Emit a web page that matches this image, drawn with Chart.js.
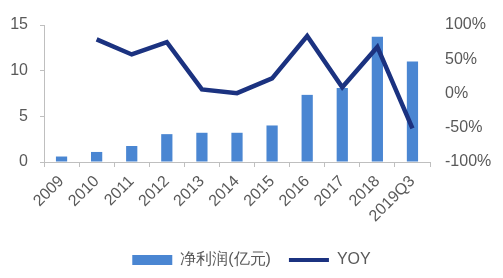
<!DOCTYPE html>
<html><head><meta charset="utf-8">
<script src="https://cdn.jsdelivr.net/npm/chart.js@4/dist/chart.umd.min.js"></script>
<style>html,body{margin:0;padding:0;background:#fff}#wrap{width:503px;height:278px}</style>
</head><body><div id="wrap"><canvas id="c" width="503" height="278"></canvas></div>
<script>
const categories = ['2009','2010','2011','2012','2013','2014','2015','2016','2017','2018','2019Q3'];
const netProfit = [0.6, 1.1, 1.75, 3.05, 3.2, 3.2, 4.0, 7.35, 8.1, 13.7, 11.0];
const yoy = [null, 79, 57, 75, 6, 0.5, 22, 84, 9, 68, -51];
const leftTicks = [0, 5, 10, 15];
const rightTicks = [-100, -50, 0, 50, 100];

const FONT = "'Liberation Sans', Arial, sans-serif";
const GRAY = '#595959';
const AXIS = '#bfbfbf';
const BAR = '#4a86d2';
const LINE = '#1b3280';

new Chart(document.getElementById('c'), {
  data: {
    labels: categories,
    datasets: [
      { type: 'line', label: 'YOY', data: yoy, yAxisID: 'y1', borderColor: LINE, backgroundColor: LINE,
        borderWidth: 4.5, pointRadius: 0, tension: 0, order: 0, spanGaps: false },
      { type: 'bar', label: '净利润(亿元)', data: netProfit, yAxisID: 'y', backgroundColor: BAR,
        categoryPercentage: 1, barPercentage: 0.32, order: 1 }
    ]
  },
  options: {
    responsive: false, animation: false,
    layout: { padding: { top: 25, left: 0, right: 0, bottom: 0 } },
    plugins: {
      tooltip: { enabled: false },
      legend: {
        position: 'bottom',
        reverse: true,
        labels: {
          font: { family: FONT, size: 16 }, color: GRAY,
          usePointStyle: true, pointStyleWidth: 40, boxHeight: 10, padding: 18,
          generateLabels(chart) {
            const items = Chart.defaults.plugins.legend.labels.generateLabels(chart);
            return items.map(it => {
              if (it.text === 'YOY') { it.pointStyle = 'line'; it.lineWidth = 4; it.strokeStyle = LINE; }
              else { it.pointStyle = 'rect'; it.lineWidth = 0; it.fillStyle = BAR; it.strokeStyle = BAR; }
              return it;
            });
          }
        }
      }
    },
    scales: {
      x: {
        offset: true,
        grid: { offset: true, drawOnChartArea: false, drawTicks: true, tickLength: 5, color: AXIS },
        border: { display: true, color: AXIS, width: 1 },
        ticks: { font: { family: FONT, size: 16 }, color: GRAY, minRotation: 45, maxRotation: 45, padding: 5, autoSkip: false },
        afterFit(s) { s.height = 72; }
      },
      y: {
        position: 'left', min: 0, max: 15,
        afterBuildTicks(s) { s.ticks = leftTicks.map(v => ({ value: v })); },
        grid: { drawOnChartArea: false, drawTicks: true, tickLength: 4, color: AXIS },
        border: { display: true, color: AXIS },
        ticks: { font: { family: FONT, size: 16 }, color: GRAY, padding: 12 },
        afterFit(s) { s.width = 44; }
      },
      y1: {
        position: 'right', min: -100, max: 100,
        afterBuildTicks(s) { s.ticks = rightTicks.map(v => ({ value: v })); },
        grid: { drawOnChartArea: false, drawTicks: false },
        border: { display: false },
        ticks: { font: { family: FONT, size: 16 }, color: GRAY, padding: 15, callback: v => v + '%' },
        afterFit(s) { s.width = 73; }
      }
    }
  }
});
</script></body></html>
